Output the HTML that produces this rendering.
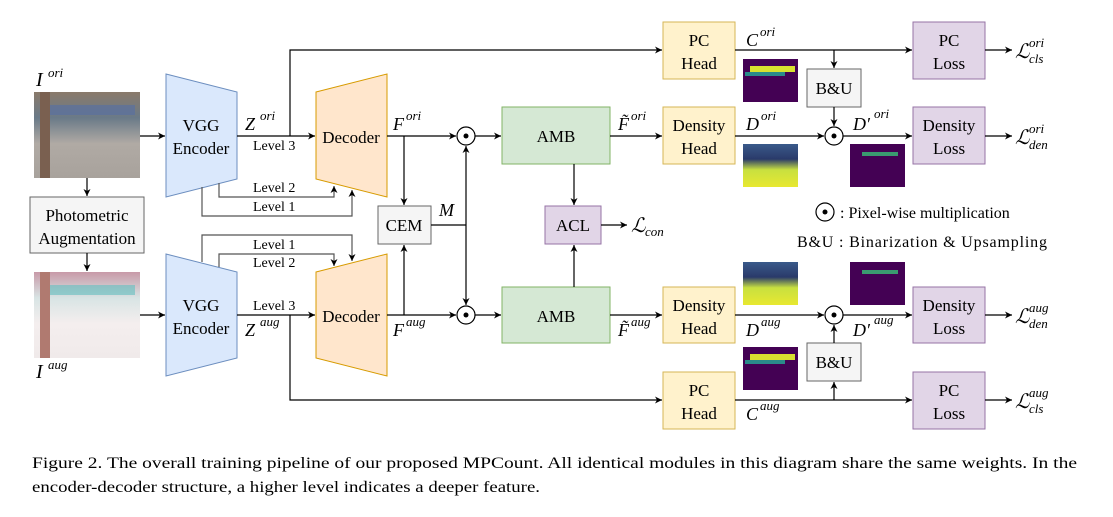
<!DOCTYPE html>
<html><head><meta charset="utf-8"><style>
html,body{margin:0;padding:0;background:#fff;}
svg{display:block;}
text{font-family:"Liberation Serif",serif;fill:#000;}
.b{font-size:17px;text-anchor:middle;}
.s{font-size:14px;}
.m{font-style:italic;font-size:18px;}
.sup{font-style:italic;font-size:13px;}
</style></head><body>
<svg width="1113" height="517" viewBox="0 0 1113 517" xmlns="http://www.w3.org/2000/svg">
<defs>
<marker id="a" markerWidth="8" markerHeight="8" refX="7" refY="4" orient="auto" markerUnits="userSpaceOnUse">
<path d="M0,0.5 L7,4 L0,7.5 L2,4 Z" fill="#000"/></marker>
<linearGradient id="ph" x1="0" y1="0" x2="0" y2="1"><stop offset="0" stop-color="#8a7a6a"/><stop offset="0.3" stop-color="#6a7a88"/><stop offset="0.6" stop-color="#b0aaa4"/><stop offset="1" stop-color="#a8a29c"/></linearGradient>
<linearGradient id="pa" x1="0" y1="0" x2="0" y2="1"><stop offset="0" stop-color="#c89aa8"/><stop offset="0.3" stop-color="#d8e4e4"/><stop offset="0.6" stop-color="#f4eeee"/><stop offset="1" stop-color="#f0eaea"/></linearGradient>
<linearGradient id="hy" x1="0" y1="0" x2="0" y2="1"><stop offset="0" stop-color="#3a5a8a"/><stop offset="0.35" stop-color="#2a3a6a"/><stop offset="0.6" stop-color="#c8e040"/><stop offset="1" stop-color="#e8e830"/></linearGradient>
</defs>

<!-- images -->
<rect x="34" y="92" width="106" height="86" fill="url(#ph)"/>
<rect x="40" y="92" width="10" height="86" fill="#7a6050"/>
<rect x="50" y="105" width="85" height="10" fill="#5a70a0" opacity="0.7"/>
<rect x="34" y="272" width="106" height="86" fill="url(#pa)"/>
<rect x="40" y="272" width="10" height="86" fill="#b07a70"/>
<rect x="50" y="285" width="85" height="10" fill="#60c0c0" opacity="0.6"/>
<text class="m" x="36" y="86" style="font-size:20px">I</text><text class="sup" x="48" y="77">ori</text>
<text class="m" x="36" y="378" style="font-size:20px">I</text><text class="sup" x="48" y="369">aug</text>

<rect x="30" y="197" width="114" height="56" fill="#f5f5f5" stroke="#666"/>
<text class="b" x="87" y="221">Photometric</text><text class="b" x="87" y="244">Augmentation</text>
<g stroke="#000" stroke-width="1.2" fill="none">
<line x1="87" y1="178" x2="87" y2="196" marker-end="url(#a)"/>
<line x1="87" y1="253" x2="87" y2="271" marker-end="url(#a)"/>
<line x1="140" y1="136" x2="165" y2="136" marker-end="url(#a)"/>
<line x1="140" y1="315" x2="165" y2="315" marker-end="url(#a)"/>
</g>

<!-- encoders/decoders -->
<polygon points="166,74 237,92 237,179 166,197" fill="#dae8fc" stroke="#6c8ebf"/>
<polygon points="166,254 237,272 237,358 166,376" fill="#dae8fc" stroke="#6c8ebf"/>
<text class="b" x="201" y="131">VGG</text><text class="b" x="201" y="154">Encoder</text>
<text class="b" x="201" y="311">VGG</text><text class="b" x="201" y="334">Encoder</text>
<polygon points="316,92 387,74 387,197 316,179" fill="#ffe6cc" stroke="#d79b00"/>
<polygon points="316,272 387,254 387,376 316,358" fill="#ffe6cc" stroke="#d79b00"/>
<text class="b" x="351" y="143">Decoder</text><text class="b" x="351" y="322">Decoder</text>

<g stroke="#000" stroke-width="1.2" fill="none">
<line x1="237" y1="136" x2="315" y2="136" marker-end="url(#a)"/>
<line x1="237" y1="315" x2="315" y2="315" marker-end="url(#a)"/>
<polyline points="290,136 290,50 662,50" marker-end="url(#a)"/>
<polyline points="290,315 290,400 662,400" marker-end="url(#a)"/>
</g>
<g stroke="#555" stroke-width="1.2" fill="none">
<polyline points="219,183 219,197 334,197 334,186" marker-end="url(#a)"/>
<polyline points="202,187 202,216 352,216 352,190" marker-end="url(#a)"/>
<polyline points="202,262 202,235 352,235 352,261" marker-end="url(#a)"/>
<polyline points="219,267 219,254 334,254 334,266" marker-end="url(#a)"/>
</g>
<text class="s" x="253" y="150">Level 3</text>
<text class="s" x="253" y="192">Level 2</text>
<text class="s" x="253" y="211">Level 1</text>
<text class="s" x="253" y="249">Level 1</text>
<text class="s" x="253" y="267">Level 2</text>
<text class="s" x="253" y="310">Level 3</text>
<text class="m" x="245" y="130">Z</text><text class="sup" x="260" y="120">ori</text>
<text class="m" x="245" y="336">Z</text><text class="sup" x="260" y="326">aug</text>
<text class="m" x="393" y="130">F</text><text class="sup" x="406" y="120">ori</text>
<text class="m" x="393" y="336">F</text><text class="sup" x="406" y="326">aug</text>

<!-- CEM -->
<rect x="378" y="206" width="53" height="38" fill="#f5f5f5" stroke="#666"/>
<text class="b" x="404" y="231">CEM</text>
<text class="m" x="439" y="216">M</text>
<g stroke="#000" stroke-width="1.2" fill="none">
<line x1="387" y1="136" x2="456" y2="136" marker-end="url(#a)"/>
<line x1="387" y1="315" x2="456" y2="315" marker-end="url(#a)"/>
<line x1="404" y1="136" x2="404" y2="205" marker-end="url(#a)"/>
<line x1="404" y1="315" x2="404" y2="245" marker-end="url(#a)"/>
<polyline points="431,225 466,225"/>
<line x1="466" y1="225" x2="466" y2="146" marker-end="url(#a)"/>
<line x1="466" y1="225" x2="466" y2="305" marker-end="url(#a)"/>
<line x1="475" y1="136" x2="501" y2="136" marker-end="url(#a)"/>
<line x1="475" y1="315" x2="501" y2="315" marker-end="url(#a)"/>
</g>
<g stroke="#000" stroke-width="1.2" fill="#fff">
<circle cx="466" cy="136" r="9"/><circle cx="466" cy="315" r="9"/>
<circle cx="834" cy="136" r="9"/><circle cx="834" cy="315" r="9"/>
<circle cx="825" cy="212" r="9"/>
</g>
<g fill="#000"><circle cx="466" cy="136" r="2.5"/><circle cx="466" cy="315" r="2.5"/><circle cx="834" cy="136" r="2.5"/><circle cx="834" cy="315" r="2.5"/><circle cx="825" cy="212" r="2.5"/></g>

<!-- AMB / ACL -->
<rect x="502" y="107" width="108" height="57" fill="#d5e8d4" stroke="#82b366"/>
<rect x="502" y="287" width="108" height="56" fill="#d5e8d4" stroke="#82b366"/>
<text class="b" x="556" y="142">AMB</text><text class="b" x="556" y="322">AMB</text>
<rect x="545" y="206" width="56" height="38" fill="#e1d5e7" stroke="#9673a6"/>
<text class="b" x="573" y="231">ACL</text>
<g stroke="#000" stroke-width="1.2" fill="none">
<line x1="574" y1="164" x2="574" y2="205" marker-end="url(#a)"/>
<line x1="574" y1="287" x2="574" y2="245" marker-end="url(#a)"/>
<line x1="601" y1="225" x2="627" y2="225" marker-end="url(#a)"/>
<line x1="610" y1="136" x2="662" y2="136" marker-end="url(#a)"/>
<line x1="610" y1="315" x2="662" y2="315" marker-end="url(#a)"/>
</g>
<text class="m" x="631" y="232" style="font-size:20px">ℒ</text><text class="sup" x="645" y="236">con</text>
<text class="m" x="618" y="130">F̃</text><text class="sup" x="631" y="120">ori</text>
<text class="m" x="618" y="336">F̃</text><text class="sup" x="631" y="326">aug</text>

<!-- heads -->
<g fill="#fff2cc" stroke="#d6b656">
<rect x="663" y="22" width="72" height="57"/><rect x="663" y="107" width="72" height="57"/>
<rect x="663" y="287" width="72" height="56"/><rect x="663" y="372" width="72" height="57"/>
</g>
<text class="b" x="699" y="46">PC</text><text class="b" x="699" y="69">Head</text>
<text class="b" x="699" y="131">Density</text><text class="b" x="699" y="154">Head</text>
<text class="b" x="699" y="311">Density</text><text class="b" x="699" y="334">Head</text>
<text class="b" x="699" y="396">PC</text><text class="b" x="699" y="419">Head</text>

<g fill="#e1d5e7" stroke="#9673a6">
<rect x="913" y="22" width="72" height="57"/><rect x="913" y="107" width="72" height="57"/>
<rect x="913" y="287" width="72" height="56"/><rect x="913" y="372" width="72" height="57"/>
</g>
<text class="b" x="949" y="46">PC</text><text class="b" x="949" y="69">Loss</text>
<text class="b" x="949" y="131">Density</text><text class="b" x="949" y="154">Loss</text>
<text class="b" x="949" y="311">Density</text><text class="b" x="949" y="334">Loss</text>
<text class="b" x="949" y="396">PC</text><text class="b" x="949" y="419">Loss</text>

<g fill="#f5f5f5" stroke="#666">
<rect x="807" y="69" width="54" height="38"/><rect x="807" y="343" width="54" height="38"/>
</g>
<text class="b" x="834" y="94">B&amp;U</text><text class="b" x="834" y="368">B&amp;U</text>

<g stroke="#000" stroke-width="1.2" fill="none">
<line x1="735" y1="50" x2="912" y2="50" marker-end="url(#a)"/>
<line x1="735" y1="400" x2="912" y2="400" marker-end="url(#a)"/>
<line x1="834" y1="50" x2="834" y2="68" marker-end="url(#a)"/>
<line x1="834" y1="107" x2="834" y2="126" marker-end="url(#a)"/>
<line x1="834" y1="400" x2="834" y2="382" marker-end="url(#a)"/>
<line x1="834" y1="343" x2="834" y2="325" marker-end="url(#a)"/>
<line x1="735" y1="136" x2="824" y2="136" marker-end="url(#a)"/>
<line x1="735" y1="315" x2="824" y2="315" marker-end="url(#a)"/>
<line x1="843" y1="136" x2="912" y2="136" marker-end="url(#a)"/>
<line x1="843" y1="315" x2="912" y2="315" marker-end="url(#a)"/>
<line x1="985" y1="50" x2="1012" y2="50" marker-end="url(#a)"/>
<line x1="985" y1="136" x2="1012" y2="136" marker-end="url(#a)"/>
<line x1="985" y1="315" x2="1012" y2="315" marker-end="url(#a)"/>
<line x1="985" y1="400" x2="1012" y2="400" marker-end="url(#a)"/>
</g>

<!-- heatmaps -->
<g>
<rect x="743" y="59" width="55" height="43" fill="#440154"/><rect x="750" y="66" width="45" height="6" fill="#d8e030"/><rect x="745" y="72" width="40" height="4" fill="#2a8a8a"/>
<rect x="743" y="347" width="55" height="43" fill="#440154"/><rect x="750" y="354" width="45" height="6" fill="#d8e030"/><rect x="745" y="360" width="40" height="4" fill="#2a8a8a"/>
<rect x="743" y="144" width="55" height="43" fill="url(#hy)"/>
<rect x="743" y="262" width="55" height="43" fill="url(#hy)"/>
<rect x="850" y="144" width="55" height="43" fill="#440154"/><rect x="862" y="152" width="36" height="4" fill="#3a9a70"/>
<rect x="850" y="262" width="55" height="43" fill="#440154"/><rect x="862" y="270" width="36" height="4" fill="#3a9a70"/>
</g>

<text class="m" x="746" y="46">C</text><text class="sup" x="760" y="36">ori</text>
<text class="m" x="746" y="420">C</text><text class="sup" x="760" y="410">aug</text>
<text class="m" x="746" y="130">D</text><text class="sup" x="761" y="120">ori</text>
<text class="m" x="746" y="336">D</text><text class="sup" x="761" y="326">aug</text>
<text class="m" x="853" y="130">D′</text><text class="sup" x="874" y="118">ori</text>
<text class="m" x="853" y="336">D′</text><text class="sup" x="874" y="324">aug</text>

<text class="m" x="1015" y="58" style="font-size:20px">ℒ</text><text class="sup" x="1029" y="47">ori</text><text class="sup" x="1029" y="63">cls</text>
<text class="m" x="1015" y="144" style="font-size:20px">ℒ</text><text class="sup" x="1029" y="133">ori</text><text class="sup" x="1029" y="149">den</text>
<text class="m" x="1015" y="323" style="font-size:20px">ℒ</text><text class="sup" x="1029" y="312">aug</text><text class="sup" x="1029" y="328">den</text>
<text class="m" x="1015" y="408" style="font-size:20px">ℒ</text><text class="sup" x="1029" y="397">aug</text><text class="sup" x="1029" y="413">cls</text>

<text x="840" y="218" style="font-size:16px">: Pixel-wise multiplication</text>
<text x="797" y="247" style="font-size:16px" textLength="250">B&amp;U : Binarization &amp; Upsampling</text>

<text x="32" y="468" style="font-size:15.5px" textLength="1045" lengthAdjust="spacingAndGlyphs">Figure 2. The overall training pipeline of our proposed MPCount. All identical modules in this diagram share the same weights. In the</text>
<text x="32" y="492" style="font-size:15.5px" textLength="508" lengthAdjust="spacingAndGlyphs">encoder-decoder structure, a higher level indicates a deeper feature.</text>
</svg>
</body></html>
